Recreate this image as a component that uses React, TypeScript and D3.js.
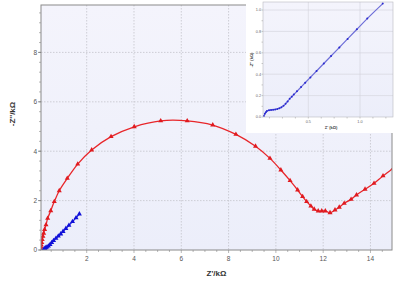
import React from 'react';
import * as d3 from 'd3';

// Main chart: red series (Nyquist, kΩ)
const redX = [0.06, 0.07, 0.08, 0.1, 0.12, 0.15, 0.18, 0.22, 0.28, 0.35, 0.48, 0.63, 0.84, 1.18, 1.62, 2.21, 3.03, 4.01, 5.13, 6.25, 7.33, 8.31, 9.14, 9.75, 10.21, 10.6, 10.92, 11.13, 11.3, 11.48, 11.62, 11.79, 11.94, 12.09, 12.29, 12.5, 12.68, 12.89, 13.18, 13.41, 13.77, 14.15, 14.53, 14.95];
const redY = [0.04, 0.12, 0.2, 0.3, 0.42, 0.55, 0.68, 0.83, 1.02, 1.28, 1.59, 1.96, 2.4, 2.9, 3.48, 4.05, 4.59, 4.99, 5.23, 5.23, 5.06, 4.68, 4.2, 3.71, 3.24, 2.81, 2.43, 2.16, 1.96, 1.78, 1.65, 1.58, 1.58, 1.58, 1.51, 1.62, 1.73, 1.89, 2.05, 2.23, 2.46, 2.7, 3.0, 3.3];
// Main chart: blue series
const blueX = [0.17, 0.2, 0.23, 0.27, 0.32, 0.38, 0.45, 0.52, 0.6, 0.7, 0.8, 0.9, 1.0, 1.12, 1.25, 1.4, 1.55, 1.69];
const blueY = [0.0, 0.03, 0.06, 0.09, 0.12, 0.16, 0.22, 0.3, 0.38, 0.47, 0.56, 0.65, 0.75, 0.87, 1.0, 1.15, 1.3, 1.46];
const xTicks = [2, 4, 6, 8, 10, 12, 14];
const yTicks = [0, 2, 4, 6, 8];

// Inset series
const insetX = [0.07, 0.08, 0.09, 0.1, 0.12, 0.14, 0.16, 0.18, 0.2, 0.22, 0.24, 0.26, 0.28, 0.3, 0.32, 0.34, 0.36, 0.39, 0.43, 0.47, 0.52, 0.58, 0.65, 0.72, 0.8, 0.88, 0.97, 1.07, 1.22];
const insetY = [0.01, 0.03, 0.045, 0.055, 0.062, 0.066, 0.068, 0.071, 0.075, 0.081, 0.09, 0.104, 0.123, 0.146, 0.17, 0.19, 0.21, 0.24, 0.28, 0.32, 0.37, 0.43, 0.5, 0.57, 0.65, 0.73, 0.82, 0.92, 1.06];
const insetXTicks = [0.5, 1.0];
const insetYTicks = [0, 0.2, 0.4, 0.6, 0.8, 1.0];
const insetYLabels = ['0.0', '0.2', '0.4', '0.6', '0.8', '1.0'];
const insetXLabels = ['0.5', '1.0'];

const W = 400, H = 281;
const M = { left: 41, right: 392, top: 5, bottom: 250 };
const I = { left: 263, right: 393, top: 2, bottom: 117 };
const FONT = 'Liberation Sans, Arial, sans-serif';

export default function App() {
  const x = d3.scaleLinear().domain([0.068, 14.91]).range([M.left, M.right]);
  const y = d3.scaleLinear().domain([0, 9.92]).range([M.bottom, M.top]);
  const ix = d3.scaleLinear().domain([0.062, 1.319]).range([I.left, I.right]);
  const iy = d3.scaleLinear().domain([0, 1.075]).range([I.bottom, I.top]);

  const red = redX.map((v, i) => [v, redY[i]] as [number, number]);
  const blue = blueX.map((v, i) => [v, blueY[i]] as [number, number]);
  const ins = insetX.map((v, i) => [v, insetY[i]] as [number, number]);

  const line = d3.line<[number, number]>().x(d => x(d[0])).y(d => y(d[1])).curve(d3.curveCatmullRom.alpha(0.5));
  const iline = d3.line<[number, number]>().x(d => ix(d[0])).y(d => iy(d[1])).curve(d3.curveCatmullRom.alpha(0.5));
  const tri = d3.symbol(d3.symbolTriangle, 11)();

  const xMinor = d3.range(0.5, 14.91, 0.5);
  const yMinor = d3.range(0, 9.9, 0.4);
  const ixMinor = d3.range(0.125, 1.319, 0.125);
  const iyMinor = d3.range(0, 1.075, 0.1);

  return (
    <svg width={W} height={H} style={{ position: 'absolute', left: 0, top: 0, background: '#fff' }} fontFamily={FONT}>
      <defs>
        <linearGradient id="bg" x1="0" y1="0" x2="0" y2="1">
          <stop offset="0" stopColor="#f4f4fc" />
          <stop offset="1" stopColor="#eceefa" />
        </linearGradient>
        <clipPath id="mclip"><rect x={M.left} y={M.top} width={M.right - M.left} height={M.bottom - M.top} /></clipPath>
        <clipPath id="iclip"><rect x={I.left} y={I.top} width={I.right - I.left} height={I.bottom - I.top} /></clipPath>
      </defs>
      <rect x={M.left} y={M.top} width={M.right - M.left} height={M.bottom - M.top} fill="url(#bg)" />
      {xTicks.map(t => <line key={'gx' + t} x1={x(t)} x2={x(t)} y1={M.top} y2={M.bottom} stroke="#c4c4cc" strokeWidth={0.8} strokeDasharray="1.5,1.5" />)}
      {yTicks.filter(t => t > 0).map(t => <line key={'gy' + t} x1={M.left} x2={M.right} y1={y(t)} y2={y(t)} stroke="#c4c4cc" strokeWidth={0.8} strokeDasharray="1.5,1.5" />)}
      <g clipPath="url(#mclip)">
        <path d={line(red) || ''} fill="none" stroke="#e8262a" strokeWidth={1.3} />
        {red.map((d, i) => <path key={'r' + i} d={tri || ''} transform={`translate(${x(d[0])},${y(d[1])})`} fill="#e01a1f" />)}
        <path d={line(blue) || ''} fill="none" stroke="#1d1de0" strokeWidth={1.3} />
        {blue.map((d, i) => <path key={'b' + i} d={tri || ''} transform={`translate(${x(d[0])},${y(d[1])})`} fill="#1010d8" />)}
      </g>
      <rect x={M.left} y={M.top} width={M.right - M.left} height={M.bottom - M.top} fill="none" stroke="#8a8a8a" strokeWidth={1} />
      {xMinor.map(t => <line key={'xm' + t} x1={x(t)} x2={x(t)} y1={M.bottom} y2={M.bottom + (t % 2 === 0 ? 3 : 2)} stroke="#888" strokeWidth={0.6} />)}
      {yMinor.map(t => <line key={'ym' + t} x1={M.left} x2={M.left - 2} y1={y(t)} y2={y(t)} stroke="#888" strokeWidth={0.6} />)}
      {yTicks.map(t => <line key={'yt' + t} x1={M.left} x2={M.left - 3} y1={y(t)} y2={y(t)} stroke="#777" strokeWidth={0.8} />)}
      {xTicks.map(t => <text key={'xl' + t} x={x(t)} y={M.bottom + 11} fontSize={6.5} fill="#555" textAnchor="middle">{t}</text>)}
      {yTicks.map(t => <text key={'yl' + t} x={M.left - 4} y={y(t) + 2.3} fontSize={6.5} fill="#555" textAnchor="end">{t}</text>)}
      <text x={(M.left + M.right) / 2} y={276} fontSize={8} fontWeight="bold" fill="#333" textAnchor="middle">Z'/kΩ</text>
      <text transform={`translate(15,114) rotate(-90)`} fontSize={8} fontWeight="bold" fill="#333" textAnchor="middle">-Z''/kΩ</text>

      {/* Inset */}
      <rect x={246} y={0} width={154} height={133} fill="#fff" />
      <rect x={I.left} y={I.top} width={I.right - I.left} height={I.bottom - I.top} fill="url(#bg)" />
      {insetXTicks.map(t => <line key={'igx' + t} x1={ix(t)} x2={ix(t)} y1={I.top} y2={I.bottom} stroke="#d2d2da" strokeWidth={0.6} />)}
      {insetYTicks.filter(t => t > 0).map(t => <line key={'igy' + t} x1={I.left} x2={I.right} y1={iy(t)} y2={iy(t)} stroke="#d2d2da" strokeWidth={0.6} />)}
      <g clipPath="url(#iclip)">
        <path d={iline(ins) || ''} fill="none" stroke="#6e6ed8" strokeWidth={1.2} />
        {ins.map((d, i) => <circle key={'i' + i} cx={ix(d[0])} cy={iy(d[1])} r={1} fill="#2a2ad0" />)}
      </g>
      <rect x={I.left} y={I.top} width={I.right - I.left} height={I.bottom - I.top} fill="none" stroke="#b8b8c0" strokeWidth={0.6} />
      {ixMinor.map(t => <line key={'ixm' + t} x1={ix(t)} x2={ix(t)} y1={I.bottom} y2={I.bottom + 1.5} stroke="#999" strokeWidth={0.5} />)}
      {iyMinor.map(t => <line key={'iym' + t} x1={I.left} x2={I.left - 1.5} y1={iy(t)} y2={iy(t)} stroke="#999" strokeWidth={0.5} />)}
      {insetXTicks.map((t, i) => <text key={'ixl' + t} x={ix(t)} y={I.bottom + 6} fontSize={3.8} fill="#666" textAnchor="middle">{insetXLabels[i]}</text>)}
      {insetYTicks.map((t, i) => <text key={'iyl' + t} x={I.left - 2} y={iy(t) + 1.3} fontSize={3.8} fill="#666" textAnchor="end">{insetYLabels[i]}</text>)}
      <text x={(I.left + I.right) / 2 + 3} y={129} fontSize={4} fontWeight="bold" fill="#444" textAnchor="middle">Z' (kΩ)</text>
      <text transform={`translate(253,60) rotate(-90)`} fontSize={4} fontWeight="bold" fill="#444" textAnchor="middle">-Z'' (kΩ)</text>
    </svg>
  );
}
